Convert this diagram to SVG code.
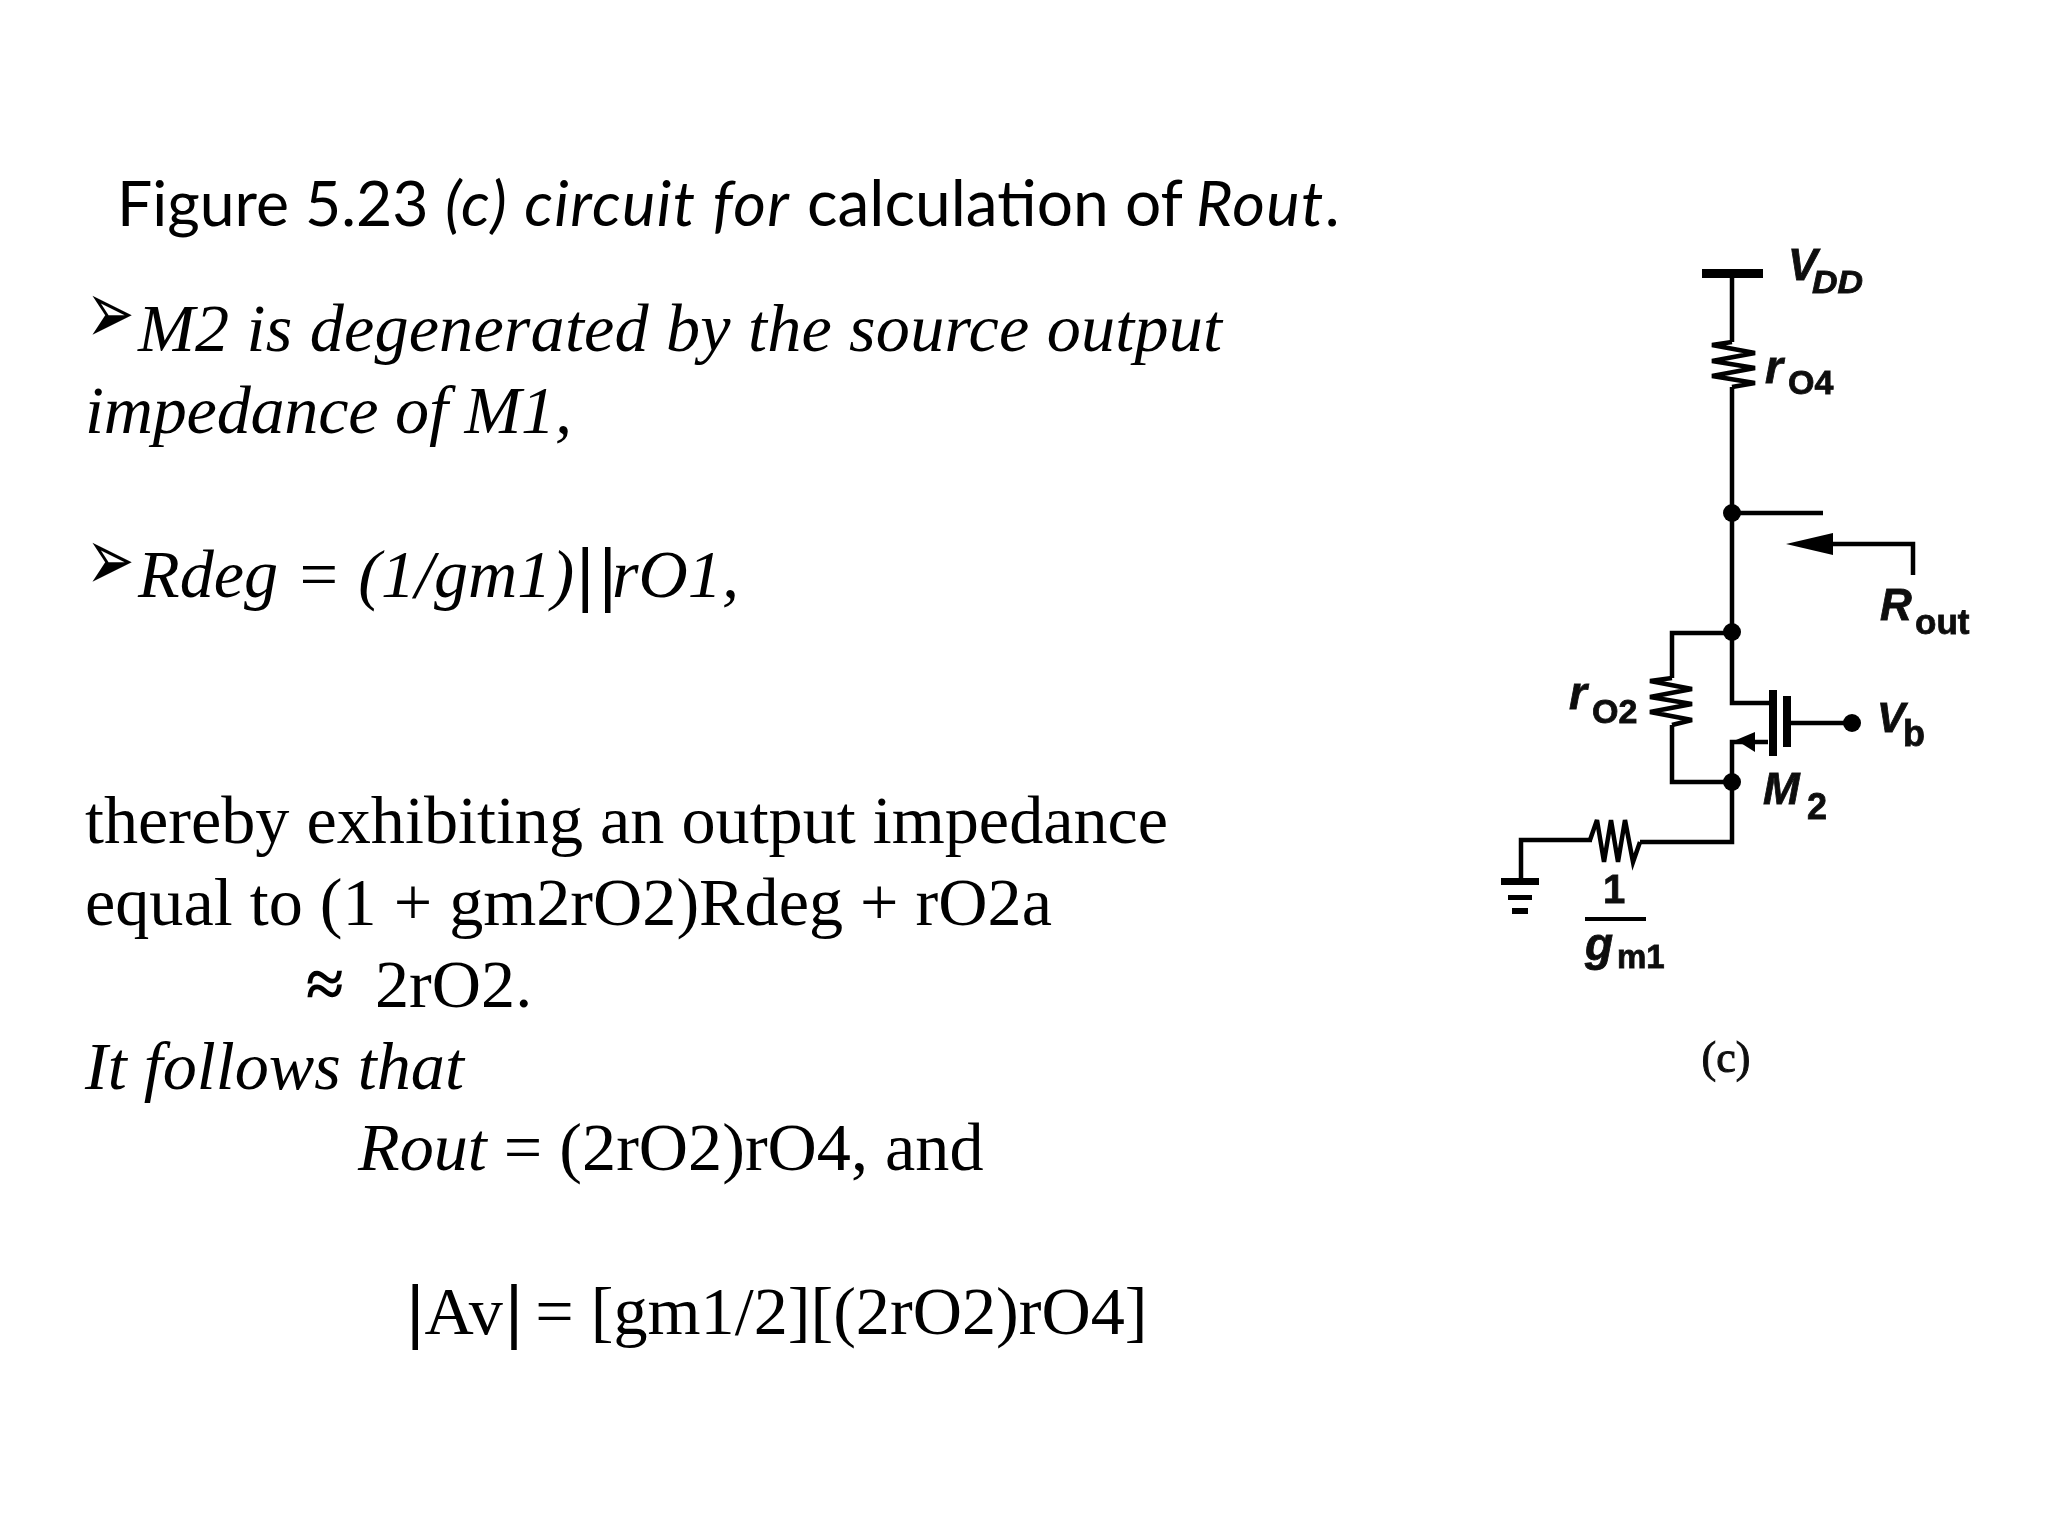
<svg xmlns="http://www.w3.org/2000/svg" width="2048" height="1536" viewBox="0 0 2048 1536">
<defs>
<style>
.t{font-family:"Liberation Serif","Times New Roman",serif;font-size:68.2px;fill:#000}
.i{font-style:italic}
.bar{font-family:"DejaVu Sans",sans-serif;font-style:normal;font-size:66.67px}
.b{font-family:"DejaVu Sans",sans-serif;font-size:58px;fill:#000}
.h{font-family:Lato,"Noto Sans",sans-serif;font-size:62.5px;fill:#000}
.hi{font-style:italic;font-size:63px;letter-spacing:1.4px}
.w{fill:none;stroke:#000;stroke-width:4.5;stroke-linejoin:miter}
.l{font-family:"Liberation Sans",Arial,sans-serif;font-weight:bold;fill:#111;stroke:#111;stroke-width:.8}
.n{fill:#000}
</style>
<filter id="soft" x="-5%" y="-5%" width="110%" height="110%"><feGaussianBlur stdDeviation="0.5"/></filter>
</defs>
<rect width="2048" height="1536" fill="#fff"/>
<g id="title">
<text class="h" y="226"><tspan x="117">Figure 5.23 </tspan><tspan x="445" class="hi">(c) circuit for</tspan><tspan x="807" font-size="64">calculation of </tspan><tspan x="1196" class="hi">Rout</tspan><tspan letter-spacing="1.4">.</tspan></text>
</g>
<g id="body">
<text class="b" transform="translate(86,342.6) scale(1,1.53)">➢</text>
<text class="t i" x="138" y="351" textLength="1084">M2 is degenerated by the source output</text>
<text class="t i" x="85" y="433" textLength="487">impedance of M1,</text>
<text class="b" transform="translate(86,590) scale(1,1.53)">➢</text>
<text class="t" x="138" y="597"><tspan class="i">Rdeg = (1/gm1)</tspan><tspan class="bar">|</tspan><tspan class="bar" letter-spacing="-7">|</tspan><tspan class="i">rO1,</tspan></text>
<text class="t" x="85" y="843">thereby exhibiting an output impedance</text>
<text class="t" x="85" y="925">equal to (1 + gm2rO2)Rdeg + rO2a</text>
<text class="t" x="306" y="1007" font-size="60" font-weight="bold">≈</text>
<text class="t" x="375" y="1007">2rO2.</text>
<text class="t i" x="85" y="1089">It follows that</text>
<text class="t" x="358" y="1170"><tspan class="i">Rout</tspan> = (2rO2)rO4, and</text>
<text class="t" x="404" y="1334"><tspan class="bar" letter-spacing="-2">|</tspan>Av<tspan class="bar" letter-spacing="-7">|</tspan> = [gm1/2][(2rO2)rO4]</text>
</g>
<g id="circuit" filter="url(#soft)">
<g id="connectors">
<path class="w" d="M1732 274V342M1732 387V703H1770M1732 513H1823M1732 633H1672V678M1672 725V782H1732M1732 782V842H1640M1732 782V742H1768M1592 840H1521V878"/>
<path class="w" d="M1833 544H1913V575"/>
<path class="w" d="M1787 723H1852"/>
<path class="n" d="M1786 544L1833 533V555Z"/>
<path class="n" d="M1736 740L1755 732V752Z"/>
</g>
<g id="vdd"><rect x="1702" y="269" width="61" height="9" class="n"/><text class="l" y="280" font-size="44" font-style="italic"><tspan x="1788">V</tspan><tspan x="1812" y="293" font-size="32" textLength="51" lengthAdjust="spacingAndGlyphs">DD</tspan></text></g>
<g id="r-o4"><path class="w" d="M1732 342L1712 345L1755 353L1712 361L1755 368L1712 376L1755 383L1732 387"/><text class="l" y="383" font-size="46" font-style="italic"><tspan x="1765">r</tspan><tspan x="1788" y="394" font-size="34" font-style="normal">O4</tspan></text></g>
<g id="node-out"><circle cx="1732" cy="513" r="9" class="n"/></g>
<g id="node-drain"><circle cx="1732" cy="632" r="9" class="n"/></g>
<g id="node-source"><circle cx="1732" cy="782" r="9" class="n"/></g>
<g id="rout-label"><text class="l" y="620" font-size="44" font-style="italic"><tspan x="1880">R</tspan><tspan x="1915" y="634" font-size="35" font-style="normal">out</tspan></text></g>
<g id="r-o2"><path class="w" d="M1672 678L1650 681L1692 689L1650 697L1692 704L1650 712L1692 720L1672 725"/><text class="l" y="709" font-size="46" font-style="italic"><tspan x="1569">r</tspan><tspan x="1592" y="723" font-size="34" font-style="normal">O2</tspan></text></g>
<g id="m2"><rect x="1769" y="690" width="8" height="66" class="n"/><rect x="1783" y="696" width="8" height="51" class="n"/><text class="l" y="804" font-size="44" font-style="italic"><tspan x="1763">M</tspan><tspan x="1807" y="819" font-size="36" font-style="normal">2</tspan></text></g>
<g id="vb"><circle cx="1852" cy="723" r="9" class="n"/><text class="l" y="732" font-size="42" font-style="italic"><tspan x="1877">V</tspan><tspan x="1903" y="746" font-size="36" font-style="normal">b</tspan></text></g>
<g id="r-gm1"><path class="w" d="M1590 840L1597 820L1604 862L1611 820L1618 862L1625 820L1633 862L1640 842"/><text class="l" x="1603" y="903" font-size="40">1</text><rect x="1585" y="917" width="61" height="4" class="n"/><text class="l" y="960" font-size="46" font-style="italic"><tspan x="1585">g</tspan><tspan x="1617" y="968" font-size="33" font-style="normal">m1</tspan></text></g>
<g id="ground"><rect x="1501" y="878" width="38" height="7" class="n"/><rect x="1508" y="895" width="24" height="5" class="n"/><rect x="1512" y="908" width="16" height="6" class="n"/></g>
<g id="caption"><text x="1726" y="1072" text-anchor="middle" font-family="Liberation Serif,serif" font-size="44" fill="#111" stroke="#111" stroke-width="1">(c)</text></g>
</g>
</svg>
